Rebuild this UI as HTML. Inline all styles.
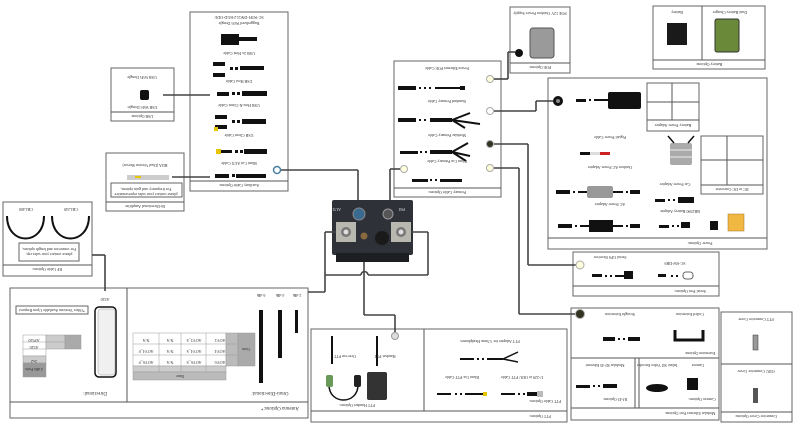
<!DOCTYPE html>
<html><head><meta charset="utf-8"><style>
html,body{margin:0;padding:0;background:#fff;width:793px;height:424px;overflow:hidden}
svg text{font-family:"Liberation Serif",serif;font-size:4px;fill:#333}
.b{fill:#fff;stroke:#666;stroke-width:1}
.l{fill:none;stroke:#555;stroke-width:1}
.c{stroke:#444;stroke-width:1.6}
.k{fill:#111}
</style></head><body>
<svg width="793" height="424" viewBox="0 0 793 424" xmlns="http://www.w3.org/2000/svg">

<!-- Aux cable box -->
<rect class="b" x="190" y="12" width="98" height="179"/>
<line class="l" x1="190" y1="181" x2="288" y2="181"/>
<text x="239" y="184" transform="rotate(180 239 184)" text-anchor="middle">Auxiliary Cable Options:</text>
<text x="239" y="16" transform="rotate(180 239 16)" text-anchor="middle">SC-WIFI-DNGL2-RGD-ODU</text>
<text x="239" y="22" transform="rotate(180 239 22)" text-anchor="middle">Ruggedized WiFi Dongle</text>
<rect class="k" x="221" y="34" width="18" height="11"/><rect class="k" x="239" y="37" width="18" height="4"/>
<g class="k"><rect x="213" y="62" width="12" height="4"/><rect x="213" y="73" width="12" height="4"/><rect x="230" y="67" width="3" height="3"/><rect x="235" y="67" width="3" height="3"/><rect x="240" y="66" width="24" height="4"/></g>
<text x="239" y="52" transform="rotate(180 239 52)" text-anchor="middle">USB 2x Host Cable</text>
<g class="k"><rect x="217" y="92" width="12" height="4"/><rect x="232" y="92" width="3" height="3"/><rect x="237" y="92" width="3" height="3"/><rect x="242" y="91" width="25" height="5"/></g>
<text x="239" y="80" transform="rotate(180 239 80)" text-anchor="middle">USB Host Cable</text>
<g class="k"><rect x="215" y="115" width="12" height="4"/><rect x="215" y="125" width="12" height="4"/><rect x="232" y="120" width="3" height="3"/><rect x="237" y="120" width="3" height="3"/><rect x="242" y="119" width="24" height="5"/></g>
<rect x="214" y="127" width="4" height="4" fill="#e6c400"/>
<text x="239" y="104" transform="rotate(180 239 104)" text-anchor="middle">USB Host &amp; Client Cable</text>
<g class="k"><rect x="220" y="150" width="12" height="3"/><rect x="235" y="150" width="3" height="3"/><rect x="240" y="150" width="3" height="3"/><rect x="244" y="149" width="23" height="5"/></g>
<rect x="216" y="149" width="5" height="5" fill="#e6c400"/>
<text x="239" y="134" transform="rotate(180 239 134)" text-anchor="middle">USB Client Cable</text>
<g class="k"><rect x="215" y="174" width="14" height="4"/><rect x="232" y="174" width="3" height="3"/><rect x="236" y="174" width="30" height="4"/></g>
<text x="239" y="162" transform="rotate(180 239 162)" text-anchor="middle">Blunt Cut AUX Cable</text>

<!-- USB box -->
<rect class="b" x="111" y="68" width="63" height="53"/>
<line class="l" x1="111" y1="112" x2="174" y2="112"/>
<text x="142" y="115" transform="rotate(180 142 115)" text-anchor="middle">USB Options:</text>
<text x="142" y="106" transform="rotate(180 142 106)" text-anchor="middle">USB WiFi Dongle:</text>
<rect class="k" x="140" y="90" width="9" height="10" rx="2"/>
<text x="142" y="76" transform="rotate(180 142 76)" text-anchor="middle">USB WiFi Dongle</text>

<!-- Bi-dir amp box -->
<rect class="b" x="106" y="153" width="78" height="58"/>
<line class="l" x1="106" y1="202" x2="184" y2="202"/>
<text x="145" y="205" transform="rotate(180 145 205)" text-anchor="middle">Bi-Directional Amplifier</text>
<rect class="b" x="111" y="183" width="71" height="14"/>
<text x="146" y="188" transform="rotate(180 146 188)" text-anchor="middle">For frequency and gain options,</text>
<text x="146" y="193" transform="rotate(180 146 193)" text-anchor="middle">please contact your sales representative</text>
<rect x="127" y="175" width="42" height="5" fill="#ccc"/><rect x="135" y="176" width="6" height="2" fill="#e6c400"/>
<text x="145" y="164" transform="rotate(180 145 164)" text-anchor="middle">BDA (Dual Version Shown)</text>

<!-- RF cable box -->
<rect class="b" x="3" y="202" width="89" height="74"/>
<line class="l" x1="3" y1="265" x2="92" y2="265"/>
<text x="47" y="268" transform="rotate(180 47 268)" text-anchor="middle">RF Cable Options:</text>
<rect class="b" x="19" y="243" width="60" height="18"/>
<text x="49" y="248" transform="rotate(180 49 248)" text-anchor="middle">For connector and length options,</text>
<text x="49" y="253" transform="rotate(180 49 253)" text-anchor="middle">please contact your sales rep.</text>
<path d="M7,216 C7,246 44,246 44,216" fill="none" stroke="#111" stroke-width="2"/>
<path d="M52,216 C52,246 89,246 89,216" fill="none" stroke="#111" stroke-width="2"/>
<text x="26" y="208" transform="rotate(180 26 208)" text-anchor="middle">CBL400</text>
<text x="71" y="208" transform="rotate(180 71 208)" text-anchor="middle">CBL240</text>

<!-- Antenna box -->
<rect class="b" x="10" y="288" width="298" height="130"/>
<line class="l" x1="10" y1="402" x2="308" y2="402"/>
<line class="l" x1="127" y1="288" x2="127" y2="402"/>
<text x="280" y="407" transform="rotate(180 280 407)" text-anchor="middle" style="font-size:5px">Antenna Options:*</text>
<text x="270" y="392" transform="rotate(180 270 392)" text-anchor="middle" style="font-size:5px">Omni-Directional:</text>
<text x="95" y="392" transform="rotate(180 95 392)" text-anchor="middle" style="font-size:5px">Directional:</text>
<rect class="b" x="16" y="306" width="72" height="8"/>
<text x="52" y="309" transform="rotate(180 52 309)" text-anchor="middle">*Other Versions Available Upon Request</text>
<text x="105" y="298" transform="rotate(180 105 298)" text-anchor="middle">A520</text>
<rect x="95" y="307" width="21" height="70" rx="4" fill="#fff" stroke="#111" stroke-width="1.5"/>
<rect x="98" y="309" width="17" height="66" rx="3" fill="#f0f0f0" stroke="#999" stroke-width="0.5"/>
<rect class="k" x="295" y="310" width="3" height="23"/>
<rect class="k" x="278" y="310" width="4" height="48"/>
<rect class="k" x="259" y="310" width="4" height="73"/>
<text x="297" y="294" transform="rotate(180 297 294)" text-anchor="middle">2 dBi</text>
<text x="280" y="294" transform="rotate(180 280 294)" text-anchor="middle">4 dBi</text>
<text x="261" y="294" transform="rotate(180 261 294)" text-anchor="middle">6 dBi</text>
<g stroke="#999" stroke-width="0.5">
<rect x="133" y="333" width="93" height="33" fill="#fff"/>
<rect x="226" y="333" width="12" height="33" fill="#bbb"/>
<rect x="238" y="333" width="17" height="33" fill="#aaa"/>
<rect x="133" y="366" width="93" height="6" fill="#ccc"/>
<rect x="133" y="372" width="93" height="8" fill="#bbb"/>
<line x1="133" y1="344" x2="238" y2="344"/><line x1="133" y1="355" x2="238" y2="355"/>
<line x1="159" y1="333" x2="159" y2="372"/><line x1="181" y1="333" x2="181" y2="372"/><line x1="206" y1="333" x2="206" y2="372"/>
</g>
<g>
<text x="220" y="339" transform="rotate(180 220 339)" text-anchor="middle">AOV2</text><text x="220" y="350" transform="rotate(180 220 350)" text-anchor="middle">AOV4</text><text x="220" y="361" transform="rotate(180 220 361)" text-anchor="middle">AOV6</text>
<text x="194" y="339" transform="rotate(180 194 339)" text-anchor="middle">AOV2_S</text><text x="194" y="350" transform="rotate(180 194 350)" text-anchor="middle">AOV4_S</text><text x="194" y="361" transform="rotate(180 194 361)" text-anchor="middle">AOV6_S</text>
<text x="170" y="339" transform="rotate(180 170 339)" text-anchor="middle">N/A</text><text x="170" y="350" transform="rotate(180 170 350)" text-anchor="middle">N/A</text><text x="170" y="361" transform="rotate(180 170 361)" text-anchor="middle">N/A</text>
<text x="146" y="339" transform="rotate(180 146 339)" text-anchor="middle">N/A</text><text x="146" y="350" transform="rotate(180 146 350)" text-anchor="middle">AOV4_F</text><text x="146" y="361" transform="rotate(180 146 361)" text-anchor="middle">AOV6_F</text>
<text x="180" y="375" transform="rotate(180 180 375)" text-anchor="middle">Base</text>
<text x="246" y="348" transform="rotate(180 246 348)" text-anchor="middle">Gain</text>
</g>
<g stroke="#999" stroke-width="0.5">
<rect x="23" y="335" width="23" height="21" fill="#fff"/>
<rect x="46" y="335" width="19" height="14" fill="#ccc"/>
<rect x="65" y="335" width="16" height="14" fill="#aaa"/>
<rect x="23" y="356" width="23" height="7" fill="#ccc"/>
<rect x="23" y="363" width="23" height="14" fill="#999"/>
<line x1="23" y1="342" x2="65" y2="342"/><line x1="23" y1="349" x2="46" y2="349"/>
</g>
<text x="34" y="339" transform="rotate(180 34 339)" text-anchor="middle">AP520</text>
<text x="34" y="346" transform="rotate(180 34 346)" text-anchor="middle">A520</text>
<text x="34" y="360" transform="rotate(180 34 360)" text-anchor="middle">2x2</text>
<text x="34" y="368" transform="rotate(180 34 368)" text-anchor="middle">4 dBi Ports</text>

<!-- Device -->
<rect x="332" y="200" width="81" height="55" rx="2" fill="#2e3138"/>
<rect x="336" y="253" width="73" height="9" fill="#1c1e22"/>
<rect x="336" y="222" width="20" height="20" fill="#b8b8b0"/><circle cx="346" cy="232" r="5" fill="#777"/><circle cx="346" cy="232" r="2.5" fill="#ddd"/>
<rect x="391" y="222" width="20" height="20" fill="#b8b8b0"/><circle cx="401" cy="232" r="5" fill="#777"/><circle cx="401" cy="232" r="2.5" fill="#ddd"/>
<circle cx="359" cy="214" r="6" fill="#3a6a90" stroke="#888"/>
<circle cx="388" cy="214" r="5" fill="#555" stroke="#999"/>
<circle cx="364" cy="236" r="3.5" fill="#8a6a40"/>
<circle cx="382" cy="238" r="7" fill="#1a1a1a"/>
<text x="341" y="208" style="font-size:4px;fill:#ddd" transform="rotate(180 341 208)">AUX</text>
<text x="405" y="208" style="font-size:4px;fill:#ddd" transform="rotate(180 405 208)">PRI</text>

<!-- Primary cable box -->
<rect class="b" x="394" y="61" width="107" height="136"/>
<line class="l" x1="394" y1="188" x2="501" y2="188"/>
<text x="447" y="191" transform="rotate(180 447 191)" text-anchor="middle">Primary Cable Options:</text>
<g class="k">
<rect x="398" y="86" width="18" height="4"/><rect x="419" y="87" width="2" height="2"/><rect x="424" y="87" width="2" height="2"/><rect x="429" y="87" width="2" height="2"/><rect x="435" y="87" width="25" height="2"/><rect x="460" y="86" width="5" height="4"/>
<rect x="398" y="118" width="18" height="4"/><rect x="419" y="119" width="2" height="2"/><rect x="424" y="119" width="2" height="2"/><rect x="430" y="118" width="22" height="4"/>
<rect x="400" y="151" width="18" height="3"/><rect x="420" y="151" width="2" height="2"/><rect x="425" y="151" width="2" height="2"/><rect x="430" y="150" width="22" height="4"/>
<rect x="412" y="179" width="16" height="3"/><rect x="430" y="179" width="2" height="2"/><rect x="435" y="179" width="2" height="2"/><rect x="440" y="179" width="22" height="3"/>
</g>
<path d="M452,120 L470,113 M452,120 L465,128 M452,120 L480,124" stroke="#111" stroke-width="2"/>
<path d="M452,152 L468,143 M452,152 L470,156 M452,152 L466,161" stroke="#111" stroke-width="2"/>
<text x="447" y="67" transform="rotate(180 447 67)" text-anchor="middle">Power/Ethernet POE Cable</text>
<text x="447" y="100" transform="rotate(180 447 100)" text-anchor="middle">Standard Primary Cable</text>
<text x="447" y="134" transform="rotate(180 447 134)" text-anchor="middle">Modular Primary Cable</text>
<text x="447" y="160" transform="rotate(180 447 160)" text-anchor="middle">Blunt Cut Primary Cable</text>

<!-- POE box -->
<rect class="b" x="510" y="7" width="60" height="66"/>
<line class="l" x1="510" y1="63" x2="570" y2="63"/>
<text x="540" y="66" transform="rotate(180 540 66)" text-anchor="middle">POE Options:</text>
<rect x="530" y="28" width="24" height="30" rx="3" fill="#9a9a9a" stroke="#555"/>
<text x="540" y="12" transform="rotate(180 540 12)" text-anchor="middle">POE 12V Outdoor Power Supply</text>

<!-- Battery box -->
<rect class="b" x="653" y="6" width="112" height="63"/>
<line class="l" x1="653" y1="60" x2="765" y2="60"/>
<line class="l" x1="702" y1="6" x2="702" y2="60"/>
<text x="709" y="63" transform="rotate(180 709 63)" text-anchor="middle">Battery Options:</text>
<rect x="667" y="23" width="20" height="22" fill="#1a1a1a"/>
<rect x="715" y="19" width="24" height="33" rx="2" fill="#6a8a3a" stroke="#333"/>
<text x="677" y="11" transform="rotate(180 677 11)" text-anchor="middle">Battery</text>
<text x="730" y="11" transform="rotate(180 730 11)" text-anchor="middle">Dual Battery Charger</text>

<!-- Power box -->
<rect class="b" x="548" y="78" width="219" height="171"/>
<line class="l" x1="548" y1="238" x2="767" y2="238"/>
<text x="700" y="242" transform="rotate(180 700 242)" text-anchor="middle">Power Options:</text>
<rect class="k" x="608" y="92" width="33" height="17" rx="2"/>
<g class="k"><rect x="576" y="99" width="10" height="3"/><rect x="589" y="99" width="2" height="2"/><rect x="594" y="99" width="14" height="2"/></g>
<rect class="b" x="647" y="83" width="52" height="48"/>
<line class="l" x1="647" y1="120" x2="699" y2="120"/><line class="l" x1="647" y1="102" x2="699" y2="102"/><line class="l" x1="672" y1="83" x2="672" y2="120"/>
<text x="673" y="124" transform="rotate(180 673 124)" text-anchor="middle">Battery Power Adapter</text>
<rect class="b" x="701" y="136" width="62" height="58"/>
<line class="l" x1="701" y1="185" x2="763" y2="185"/><line class="l" x1="701" y1="160" x2="763" y2="160"/><line class="l" x1="727" y1="136" x2="727" y2="185"/>
<text x="732" y="188" transform="rotate(180 732 188)" text-anchor="middle">DC to DC Converter</text>
<rect x="670" y="143" width="22" height="22" rx="2" fill="#aaa"/><line x1="670" y1="150" x2="692" y2="150" stroke="#eee"/><line x1="670" y1="157" x2="692" y2="157" stroke="#eee"/>
<path d="M674,143 L668,136 M688,143 L694,136" stroke="#111" stroke-width="1.5"/>
<rect x="580" y="152" width="10" height="3" fill="#111"/><rect x="590" y="152" width="10" height="3" fill="#ddd"/><rect x="600" y="152" width="10" height="3" fill="#c22"/>
<text x="610" y="136" transform="rotate(180 610 136)" text-anchor="middle">Pigtail Power Cable</text>
<rect x="587" y="186" width="26" height="12" rx="2" fill="#999"/>
<g class="k"><rect x="556" y="190" width="14" height="4"/><rect x="573" y="191" width="2" height="2"/><rect x="578" y="191" width="9" height="2"/><rect x="613" y="191" width="10" height="2"/><rect x="626" y="191" width="2" height="2"/><rect x="630" y="190" width="10" height="4"/></g>
<text x="610" y="166" transform="rotate(180 610 166)" text-anchor="middle">Outdoor AC Power Adapter</text>
<rect class="k" x="589" y="220" width="24" height="12"/>
<g class="k"><rect x="558" y="224" width="14" height="4"/><rect x="575" y="225" width="2" height="2"/><rect x="580" y="225" width="9" height="2"/><rect x="613" y="225" width="10" height="2"/><rect x="626" y="225" width="2" height="2"/><rect x="630" y="224" width="10" height="4"/></g>
<text x="610" y="203" transform="rotate(180 610 203)" text-anchor="middle">AC Power Adapter</text>
<g class="k"><rect x="655" y="199" width="10" height="3"/><rect x="668" y="199" width="2" height="2"/><rect x="673" y="199" width="2" height="2"/><rect x="678" y="197" width="16" height="6"/></g>
<text x="675" y="183" transform="rotate(180 675 183)" text-anchor="middle">Car Power Adapter</text>
<g class="k"><rect x="659" y="225" width="10" height="3"/><rect x="672" y="225" width="2" height="2"/><rect x="677" y="225" width="2" height="2"/><rect x="681" y="222" width="9" height="6"/><rect x="710" y="221" width="8" height="9"/></g>
<rect x="728" y="214" width="16" height="17" fill="#f0b840" stroke="#a07020" stroke-width="0.5"/>
<text x="680" y="210" transform="rotate(180 680 210)" text-anchor="middle">BB2590 Battery Adapter</text>

<!-- Serial box -->
<rect class="b" x="573" y="252" width="146" height="44"/>
<line class="l" x1="573" y1="286" x2="719" y2="286"/>
<text x="690" y="290" transform="rotate(180 690 290)" text-anchor="middle">Serial Port Options:</text>
<g class="k"><rect x="592" y="274" width="10" height="3"/><rect x="605" y="275" width="2" height="2"/><rect x="610" y="275" width="2" height="2"/><rect x="615" y="275" width="9" height="2"/><rect x="624" y="271" width="9" height="8"/><rect x="658" y="274" width="8" height="3"/><rect x="671" y="275" width="2" height="2"/><rect x="676" y="275" width="2" height="2"/></g>
<rect x="683" y="272" width="10" height="7" rx="3" fill="#fff" stroke="#666"/>
<text x="610" y="256" transform="rotate(180 610 256)" text-anchor="middle">Serial GPS Receiver</text>
<text x="675" y="262" transform="rotate(180 675 262)" text-anchor="middle">SC-SW-DB9</text>

<!-- PTT box -->
<rect class="b" x="311" y="329" width="256" height="93"/>
<line class="l" x1="311" y1="411" x2="567" y2="411"/>
<line class="l" x1="424" y1="329" x2="424" y2="411"/>
<text x="540" y="415" transform="rotate(180 540 415)" text-anchor="middle">PTT Options:</text>
<text x="357" y="404" transform="rotate(180 357 404)" text-anchor="middle">PTT Handset Options:</text>
<text x="545" y="400" transform="rotate(180 545 400)" text-anchor="middle">PTT Cable Options:</text>
<rect class="k" x="331" y="336" width="2" height="28"/>
<path d="M329,385 C329,405 358,405 358,385" fill="none" stroke="#111" stroke-width="1.5"/>
<rect x="326" y="375" width="7" height="12" rx="2" fill="#6a9a5a"/><rect x="354" y="375" width="7" height="12" rx="2" fill="#222"/>
<rect class="k" x="376" y="336" width="2" height="30"/>
<rect x="367" y="372" width="20" height="28" rx="2" fill="#333"/>
<text x="345" y="355" transform="rotate(180 345 355)" text-anchor="middle">Over-ear PTT</text>
<text x="385" y="355" transform="rotate(180 385 355)" text-anchor="middle">Handset PTT</text>
<g class="k"><rect x="460" y="358" width="14" height="2"/><rect x="477" y="358" width="2" height="2"/><rect x="482" y="358" width="2" height="2"/><rect x="487" y="358" width="16" height="2"/></g>
<path d="M503,359 L518,352 M503,359 L518,362" stroke="#111" stroke-width="1.5"/>
<text x="490" y="340" transform="rotate(180 490 340)" text-anchor="middle">PTT Adapter for 3.5mm Headphones</text>
<g class="k"><rect x="437" y="393" width="14" height="2"/><rect x="455" y="393" width="2" height="2"/><rect x="460" y="393" width="2" height="2"/><rect x="465" y="393" width="18" height="2"/></g>
<rect x="483" y="392" width="4" height="4" fill="#e6c400"/>
<g class="k"><rect x="501" y="393" width="14" height="2"/><rect x="518" y="393" width="2" height="2"/><rect x="523" y="393" width="2" height="2"/><rect x="527" y="392" width="10" height="4"/></g>
<rect x="537" y="391" width="6" height="6" fill="#bbb"/>
<text x="462" y="376" transform="rotate(180 462 376)" text-anchor="middle">Blunt Cut PTT Cable</text>
<text x="522" y="376" transform="rotate(180 522 376)" text-anchor="middle">U-229 to ODU PTT Cable</text>

<!-- Modular ethernet box -->
<rect class="b" x="571" y="308" width="148" height="112"/>
<line class="l" x1="571" y1="408" x2="719" y2="408"/>
<line class="l" x1="571" y1="358" x2="719" y2="358"/>
<line class="l" x1="635" y1="358" x2="635" y2="408"/>
<line class="l" x1="639" y1="358" x2="639" y2="408"/>
<text x="690" y="412" transform="rotate(180 690 412)" text-anchor="middle">Modular Ethernet Port Options:</text>
<text x="700" y="352" transform="rotate(180 700 352)" text-anchor="middle">Extension Options:</text>
<text x="615" y="398" transform="rotate(180 615 398)" text-anchor="middle">RJ-45 Options:</text>
<text x="702" y="398" transform="rotate(180 702 398)" text-anchor="middle">Camera Options:</text>
<g class="k"><rect x="603" y="337" width="12" height="4"/><rect x="618" y="338" width="2" height="2"/><rect x="623" y="338" width="2" height="2"/><rect x="628" y="337" width="12" height="4"/></g>
<path d="M675,330 L675,340 L703,340 L703,330" fill="none" stroke="#111" stroke-width="3"/>
<g class="k"><rect x="576" y="385" width="14" height="3"/><rect x="593" y="385" width="2" height="2"/><rect x="598" y="385" width="2" height="2"/><rect x="603" y="384" width="14" height="4"/></g>
<ellipse cx="657" cy="388" rx="11" ry="4" fill="#111"/>
<rect class="k" x="687" y="378" width="11" height="12"/>
<text x="605" y="364" transform="rotate(180 605 364)" text-anchor="middle">Modular RJ-45 Ethernet</text>
<text x="657" y="364" transform="rotate(180 657 364)" text-anchor="middle">Inline SD Video Encoder</text>
<text x="698" y="364" transform="rotate(180 698 364)" text-anchor="middle">Camera</text>
<text x="620" y="313" transform="rotate(180 620 313)" text-anchor="middle">Straight Extension</text>
<text x="690" y="313" transform="rotate(180 690 313)" text-anchor="middle">Coiled Extension</text>

<!-- connector cover box -->
<rect class="b" x="721" y="312" width="71" height="110"/>
<line class="l" x1="721" y1="412" x2="792" y2="412"/>
<line class="l" x1="721" y1="364" x2="792" y2="364"/>
<text x="756" y="415" transform="rotate(180 756 415)" text-anchor="middle">Connector Cover Options:</text>
<text x="756" y="318" transform="rotate(180 756 318)" text-anchor="middle">PTT Connector Cover</text>
<text x="756" y="370" transform="rotate(180 756 370)" text-anchor="middle">ODU Connector Cover</text>
<rect x="753" y="335" width="5" height="15" fill="#999" stroke="#333" stroke-width="0.5"/>
<rect x="753" y="388" width="5" height="15" fill="#555"/>

<!-- connector lines -->
<line class="c" x1="281" y1="170" x2="358" y2="170"/><line class="c" x1="358" y1="170" x2="358" y2="200"/>
<line class="c" x1="163" y1="95" x2="210" y2="95"/>
<line class="c" x1="172" y1="177" x2="210" y2="177"/>
<line class="c" x1="400" y1="169" x2="390" y2="169"/><line class="c" x1="390" y1="169" x2="390" y2="200"/>
<line class="c" x1="494" y1="79" x2="508" y2="79"/><line class="c" x1="508" y1="79" x2="508" y2="52"/><line class="c" x1="508" y1="52" x2="515" y2="52"/>
<line class="c" x1="494" y1="111" x2="536" y2="111"/><line class="c" x1="536" y1="111" x2="536" y2="101"/><line class="c" x1="536" y1="101" x2="553" y2="101"/>
<line class="c" x1="494" y1="144" x2="528" y2="144"/><line class="c" x1="528" y1="144" x2="528" y2="265"/><line class="c" x1="528" y1="265" x2="576" y2="265"/>
<line class="c" x1="494" y1="168" x2="519" y2="168"/><line class="c" x1="519" y1="168" x2="519" y2="314"/><line class="c" x1="519" y1="314" x2="575" y2="314"/>
<line class="c" x1="308" y1="292" x2="325" y2="292"/><line class="c" x1="325" y1="292" x2="325" y2="232"/><line class="c" x1="325" y1="232" x2="336" y2="232"/>
<line class="c" x1="411" y1="232" x2="428" y2="232"/><line class="c" x1="428" y1="232" x2="428" y2="275"/><line class="c" x1="428" y1="275" x2="368" y2="275"/><line class="c" x1="361" y1="275" x2="325" y2="275"/>
<path d="M368,275 A3.5,3.5 0 0 0 361,275" fill="none" stroke="#444" stroke-width="1.6"/>
<line class="c" x1="364" y1="262" x2="364" y2="315"/><line class="c" x1="364" y1="315" x2="395" y2="315"/><line class="c" x1="395" y1="315" x2="395" y2="332"/>
<line class="c" x1="92" y1="255" x2="105" y2="255"/><line class="c" x1="105" y1="255" x2="105" y2="291"/>

<circle cx="277" cy="170" r="3.5" fill="#fff" stroke="#4a7fa0" stroke-width="1.5"/>
<circle cx="404" cy="169" r="3.5" fill="#ffd" stroke="#aaa"/>
<circle cx="490" cy="79" r="3.5" fill="#ffd" stroke="#aaa"/>
<circle cx="490" cy="111" r="3.5" fill="#fff" stroke="#aaa"/>
<circle cx="490" cy="144" r="3.5" fill="#332" stroke="#aaa"/>
<circle cx="490" cy="168" r="3.5" fill="#ffd" stroke="#aaa"/>
<circle cx="519" cy="53" r="4" fill="#111"/>
<circle cx="558" cy="101" r="5" fill="#111"/><circle cx="558" cy="101" r="2" fill="#888"/>
<circle cx="580" cy="265" r="4" fill="#ffd" stroke="#aaa"/>
<circle cx="395" cy="336" r="3.5" fill="#ddd" stroke="#999"/>
<circle cx="580" cy="314" r="4.5" fill="#332" stroke="#aaa"/>
</svg>
</body></html>
